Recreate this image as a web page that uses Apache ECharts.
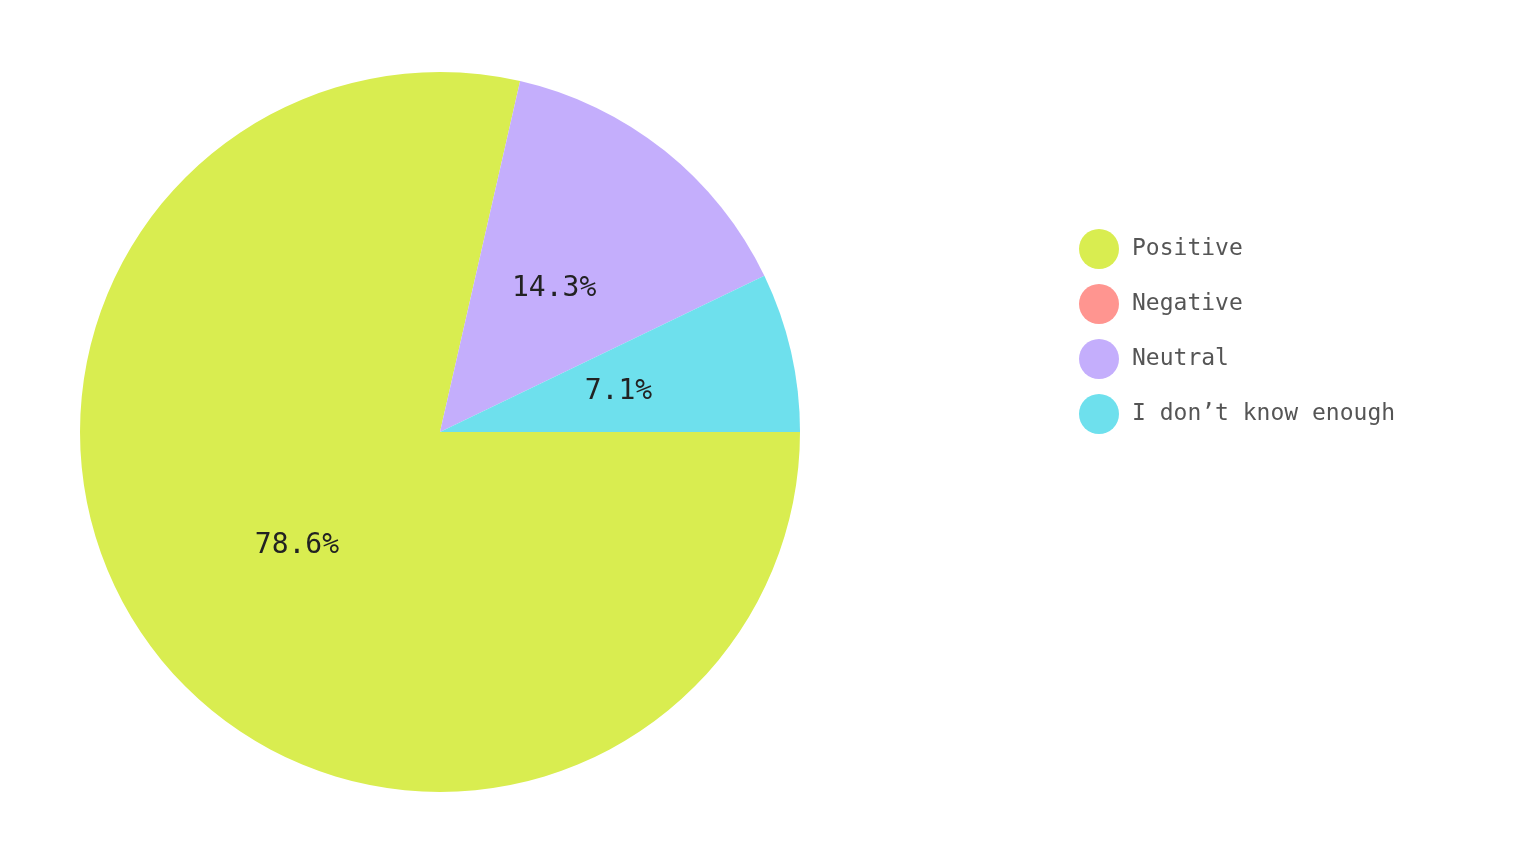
<!DOCTYPE html>
<html>
<head>
<meta charset="utf-8">
<script src="https://cdn.jsdelivr.net/npm/echarts@6/dist/echarts.min.js"></script>
<style>html,body{margin:0;padding:0;background:#fff}#main{width:1536px;height:864px}</style>
</head>
<body>
<div id="main"></div>
<script>
var categories = ['Positive', 'Negative', 'Neutral', 'I don\u2019t know enough'];
var counts = [11, 0, 2, 1];
var colors = ['#d9ed50', '#ff9590', '#c4aefc', '#6ee0ed'];

var chart = echarts.init(document.getElementById('main'));
var option = {
  color: colors,
  legend: {
    orient: 'vertical',
    left: 1074, top: 224,
    icon: 'circle',
    itemWidth: 40, itemHeight: 40, itemGap: 15,
    textStyle: { fontFamily: 'DejaVu Sans Mono', fontSize: 23, color: '#555', padding: [0, 0, 0, 8] },
    data: categories
  },
  series: [{
    type: 'pie',
    center: [440, 432],
    radius: 360,
    startAngle: 0,
    clockwise: true,
    silent: true,
    label: {
      position: 'inside',
      fontFamily: 'DejaVu Sans Mono',
      fontSize: 28,
      color: '#222',
      formatter: function (p) { return p.value ? p.percent.toFixed(1) + '%' : ''; }
    },
    labelLine: { show: false },
    data: categories.map(function (c, i) { return { name: c, value: counts[i] }; })
  }]
};
chart.setOption(option);
</script>
</body>
</html>
